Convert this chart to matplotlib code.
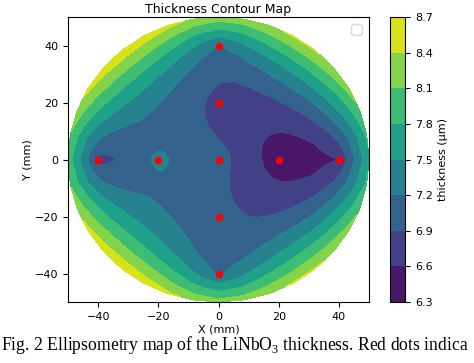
import numpy as np
import matplotlib
matplotlib.use("Agg")
import matplotlib.pyplot as plt

# measurement points on the wafer (mm) and measured thickness (um)
x_pts = [0, 0, 0, 0, 0, -20, -40, 20, 40]
y_pts = [40, 20, 0, -20, -40, 0, 0, 0, 0]
thick = [7.17, 6.85, 7.05, 7.05, 7.13, 7.28, 6.8, 6.5, 6.6]

levels = [6.3, 6.6, 6.9, 7.2, 7.5, 7.8, 8.1, 8.4, 8.7]
cbar_ticks = [6.3, 6.6, 6.9, 7.2, 7.5, 7.8, 8.1, 8.4, 8.7]
radius = 50

# linear rbf fit through the measured points
px = np.array(x_pts, float)
py = np.array(y_pts, float)
pz = np.array(thick, float)

d = np.hypot(px[:, None] - px[None, :], py[:, None] - py[None, :])
w = np.linalg.solve(d, pz)

# polar grid over the wafer
rr, tt = np.meshgrid(np.linspace(0, radius, 60), np.linspace(0, 2 * np.pi, 37))
gx = rr * np.cos(tt)
gy = rr * np.sin(tt)
r = np.hypot(gx[..., None] - px, gy[..., None] - py)
gz = (r * w).sum(axis=-1)

fig = plt.figure(figsize=(4.74, 3.63), dpi=100)
ax = fig.add_axes([0.1435, 0.168, 0.635, 0.785])
cax = fig.add_axes([0.823, 0.168, 0.032, 0.785])

cf = ax.contourf(gx, gy, gz, levels=levels, cmap="viridis")
ax.scatter(x_pts, y_pts, color="red", s=20, zorder=3)
ax.set_xlim(-50, 50)
ax.set_ylim(-50, 50)
ax.set_xticks([-40, -20, 0, 20, 40])
ax.set_yticks([-40, -20, 0, 20, 40])
ax.tick_params(labelsize=8)
ax.set_title("Thickness Contour Map", fontsize=9, pad=3)
ax.set_xlabel("X (mm)", fontsize=8, labelpad=2)
ax.set_ylabel("Y (mm)", fontsize=8, labelpad=2)
ax.legend(handles=[], loc="upper right")

cb = fig.colorbar(cf, cax=cax, ticks=cbar_ticks)
cb.ax.tick_params(labelsize=8)
cb.set_label("thickness (\u00b5m)", fontsize=8)

plt.rcParams["mathtext.fontset"] = "custom"
plt.rcParams["mathtext.rm"] = "Liberation Serif"
fig.text(0.003, 0.035, "Fig. 2 Ellipsometry map of the LiNbO$_3$ thickness. Red dots indica",
         fontsize=12.7, family="Liberation Serif", va="baseline")

fig.savefig("out.png", dpi=100)
